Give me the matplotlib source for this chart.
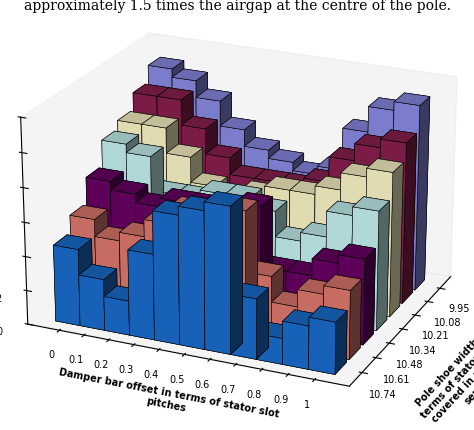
import matplotlib
matplotlib.use("Agg")
import matplotlib.pyplot as plt
import numpy as np

offsets = ["0","0.1","0.2","0.3","0.4","0.5","0.6","0.7","0.8","0.9","1"]
widths = ["10.74","10.61","10.48","10.34","10.21","10.08","9.95"]
thd_1074 = [4.5,3,2,5,7.5,8,8.5,3.5,1.5,2.5,3]
thd_1061 = [5.5,4.5,5,6,7,7,7.5,4,2.5,3.5,4]
thd_1048 = [7,6.5,6,6.5,6.5,6,7,3.5,3.5,4.5,5]
thd_1034 = [8.5,8,6,6,6.5,6.5,6,4.5,5,6.5,7]
thd_1021 = [9,9,7.5,6,5.5,6,6.5,6.5,7,8,8.5]
thd_1008 = [10,10,8.5,7,6,6,6,6.5,8,9,9.5]
thd_995 = [11,10.5,9.5,8,7,6.5,6,6.5,9,10.5,11]
rows = [thd_1074,thd_1061,thd_1048,thd_1034,thd_1021,thd_1008,thd_995]
colors = ["#1a6fd0","#e07a70","#6a0066","#c8f5f5","#fff8c8","#8b2050","#8c8ce8"]

fig = plt.figure(figsize=(4.74,4.30), dpi=100)
ax = fig.add_axes([-0.08,-0.04,1.16,1.12], projection='3d')
for j in range(len(rows)-1, -1, -1):
    for i in range(len(offsets)):
        ax.bar3d(i, j, 0, 1.0, 0.8, rows[j][i], color=colors[j], edgecolor='black', linewidth=0.4, shade=True)
ax.view_init(elev=22, azim=-66)
ax.set_box_aspect((11, 9, 7))
ax.zaxis._axinfo['juggled'] = (1, 2, 0)
ax.set_xticks(np.arange(len(offsets))+0.5)
ax.set_xticklabels(offsets, fontsize=7)
ax.set_yticks(np.arange(len(widths))+0.4)
ax.set_yticklabels(widths, fontsize=7)
ax.set_zlim(0,12)
ax.set_zticks([0,2,4,6,8,10,12])
ax.tick_params(axis='z', labelsize=7)
ax.set_xlabel("Damper bar offset in terms of stator slot\npitches", fontsize=7, fontweight='bold')
ax.set_ylabel("Pole shoe width in\nterms of stator slots\ncovered in a radial\nsense", fontsize=7, fontweight='bold', labelpad=14)
ax.set_zlabel("THD / %", fontsize=7, fontweight='bold')
for p in (ax.xaxis.pane, ax.yaxis.pane, ax.zaxis.pane):
    p.set_facecolor((0.92,0.92,0.92,1))
ax.grid(False)
fig.text(0.5, 0.985, "approximately 1.5 times the airgap at the centre of the pole.", ha='center', va='center', fontsize=10, family='DejaVu Serif')
fig.savefig("out.png", dpi=100)
